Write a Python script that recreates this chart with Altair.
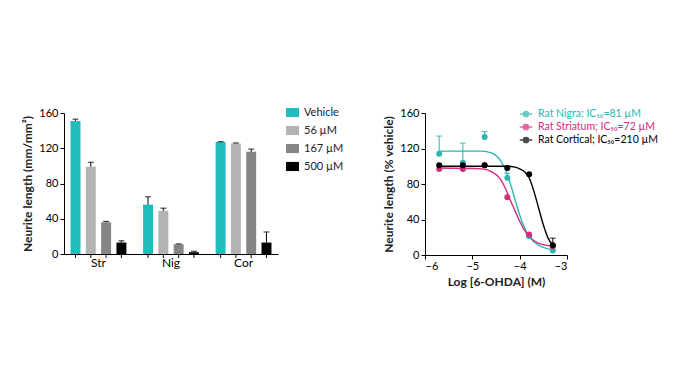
import altair as alt
import pandas as pd

FONT = "Lato"

# ---------------- Left panel data ----------------
groups = ["Str", "Nig", "Cor"]
doses = ["Vehicle", "56 µM", "167 µM", "500 µM"]
dose_colors = ["#1fbcbc", "#b3b3b3", "#858585", "#000000"]
str_mean = [151, 99, 36, 13]
str_upper = [153, 104, 37, 15]
nig_mean = [56, 49, 11, 2]
nig_upper = [65, 52, 11.5, 3]
cor_mean = [127, 125.5, 116, 13]
cor_upper = [127.5, 126, 119, 25]

rows = []
for g, means, ups in [("Str", str_mean, str_upper), ("Nig", nig_mean, nig_upper), ("Cor", cor_mean, cor_upper)]:
    for d, m, u in zip(doses, means, ups):
        rows.append({"group": g, "dose": d, "mean": m, "upper": u})
bars_df = pd.DataFrame(rows)

# ---------------- Right panel data ----------------
series = ["Rat Nigra; IC₅₀=81 µM", "Rat Striatum; IC₅₀=72 µM", "Rat Cortical; IC₅₀=210 µM"]
series_colors = ["#2bb6b0", "#d62a7e", "#000000"]
log_conc = [-5.7, -5.2, -4.74, -4.26, -3.8, -3.3]
nigra_y = [114, 104, 133, 87, 21, 5]
nigra_upper = [134, 126, 139, 92, 22, 6]
striatum_y = [97, 97, 101, 65, 23, 10]
striatum_upper = [97, 97, 101, 65, 23, 10]
cortical_y = [101, 101, 101, 98, 91, 11]
cortical_upper = [101, 101, 101, 98, 91, 19]

# fitted curves
nigra_fit_x = [-5.7, -4.8, -4.6, -4.4, -4.3, -4.2, -4.1, -4.0, -3.9, -3.8, -3.6, -3.3]
nigra_fit_y = [117, 117, 115, 106, 96, 81, 63, 45, 31, 21, 11, 6]
striatum_fit_x = [-5.7, -4.8, -4.6, -4.4, -4.3, -4.2, -4.1, -4.0, -3.9, -3.8, -3.6, -3.3]
striatum_fit_y = [98, 97, 94, 85, 75, 62, 50, 38, 28, 21, 13, 10]
cortical_fit_x = [-5.7, -4.3, -4.1, -4.0, -3.9, -3.8, -3.7, -3.6, -3.5, -3.4, -3.3]
cortical_fit_y = [100, 100, 99, 97, 94, 87, 72, 53, 34, 19, 11]

y_ticks = [0, 40, 80, 120, 160]
x_ticks = [-6, -5, -4, -3]

pts = []
fits = []
for s, ys, us in [(series[0], nigra_y, nigra_upper), (series[1], striatum_y, striatum_upper), (series[2], cortical_y, cortical_upper)]:
    for x, y, u in zip(log_conc, ys, us):
        pts.append({"series": s, "x": x, "y": y, "upper": u})
pts_df = pd.DataFrame(pts)
err_df = pts_df[pts_df["upper"] > pts_df["y"] + 0.5]
for s, xs, ys in [(series[0], nigra_fit_x, nigra_fit_y), (series[1], striatum_fit_x, striatum_fit_y), (series[2], cortical_fit_x, cortical_fit_y)]:
    for x, y in zip(xs, ys):
        fits.append({"series": s, "x": x, "y": y})
fits_df = pd.DataFrame(fits)

TICK_FS = 11
TITLE_FS = 12

# ---------------- Left chart ----------------
LW, LH = 214, 141
xenc = alt.X("group:N", sort=groups, title=None,
             scale=alt.Scale(paddingInner=0.23, paddingOuter=0.09),
             axis=alt.Axis(ticks=False, labelAngle=0, labelFontSize=12, labelPadding=3,
                           domainColor="black", labelColor="black", labelFont=FONT))
xoff = alt.XOffset("dose:N", sort=doses, scale=alt.Scale(paddingInner=0.35, paddingOuter=0))
yenc = alt.Y("mean:Q", title="Neurite length  (mm/mm²)",
             scale=alt.Scale(domain=[0, 160], nice=False),
             axis=alt.Axis(values=y_ticks, tickCount=5, grid=False, tickSize=4, labelOverlap=False,
                           domainColor="black", tickColor="black", labelColor="black",
                           labelFontSize=TICK_FS, labelFont=FONT, titleFont=FONT, titleFontSize=TITLE_FS,
                           titleFontWeight="bold", titlePadding=4, titleColor="#222222"))

base_l = alt.Chart(bars_df)
bars = base_l.mark_bar().encode(
    x=xenc, xOffset=xoff, y=yenc,
    color=alt.Color("dose:N", sort=doses,
                    scale=alt.Scale(domain=doses, range=dose_colors),
                    legend=alt.Legend(title=None, orient="none", legendX=219, legendY=-10, padding=3,
                                      symbolType="M-1,-0.7L1,-0.7L1,0.7L-1,0.7Z",
                                      symbolSize=169, symbolStrokeWidth=0, labelFontSize=11,
                                      labelFont=FONT, labelColor="#222222", rowPadding=6,
                                      labelOffset=5)),
)
err = base_l.mark_rule(color="black", strokeWidth=1).encode(
    x=xenc, xOffset=xoff, y="mean:Q", y2="upper:Q")
cap = base_l.mark_tick(color="black", thickness=1.2, size=6).encode(
    x=xenc, xOffset=xoff, y="upper:Q")
ticks = base_l.mark_rule(color="black", strokeWidth=1).encode(
    x=xenc, xOffset=xoff, y=alt.value(LH), y2=alt.value(LH + 4))
left = alt.layer(bars, err, cap, ticks).properties(width=LW, height=LH)

# ---------------- Right chart ----------------
RW, RH = 142, 142
xr = alt.X("x:Q", title="Log [6-OHDA] (M)",
           scale=alt.Scale(domain=[-6, -3], nice=False),
           axis=alt.Axis(values=x_ticks, tickCount=4, format="d", grid=False, tickSize=4, labelOverlap=False,
                         domainColor="black", tickColor="black", labelColor="black", labelPadding=1,
                         labelFontSize=TICK_FS, labelFont=FONT, titleFont=FONT, titleFontSize=TITLE_FS,
                         titleFontWeight="bold", titlePadding=5, titleColor="#222222"))
yr = alt.Y("y:Q", title="Neurite length  (% vehicle)",
           scale=alt.Scale(domain=[0, 160], nice=False),
           axis=alt.Axis(values=y_ticks, tickCount=5, grid=False, tickSize=4, labelOverlap=False,
                         domainColor="black", tickColor="black", labelColor="black",
                         labelFontSize=TICK_FS, labelFont=FONT, titleFont=FONT, titleFontSize=TITLE_FS,
                         titleFontWeight="bold", titlePadding=4, titleColor="#222222"))
cscale = alt.Scale(domain=series, range=series_colors)

label_color_expr = ("indexof(datum.label, 'Nigra') >= 0 ? '#2bb6b0' : "
                    "(indexof(datum.label, 'Striatum') >= 0 ? '#d62a7e' : '#000000')")

right_legend = alt.Legend(title=None, orient="none", legendX=94, legendY=-6, padding=0,
                          symbolType="M-1,0L1,0M-0.42,0A0.42,0.42,0,1,1,0.42,0A0.42,0.42,0,1,1,-0.42,0Z",
                          symbolSize=156, symbolStrokeWidth=1.5, labelFontSize=10.5,
                          labelFont=FONT, rowPadding=0, labelOffset=5,
                          labelColor=alt.ExprRef(label_color_expr))
color_r = alt.Color("series:N", scale=cscale, sort=series, legend=right_legend)

curve = alt.Chart(fits_df).mark_line(strokeWidth=1.4, interpolate="monotone").encode(
    x=xr, y=yr, detail="series:N", color=color_r)
errs = alt.Chart(err_df).mark_rule(strokeWidth=1).encode(
    x="x:Q", y="y:Q", y2="upper:Q", color=color_r)
caps = alt.Chart(err_df).mark_tick(thickness=1.2, size=6, orient="horizontal").encode(
    x="x:Q", y="upper:Q", color=color_r)
points = alt.Chart(pts_df).mark_circle(size=36, opacity=1).encode(
    x="x:Q", y="y:Q", color=color_r)
right = alt.layer(curve, errs, caps, points).properties(width=RW, height=RH)

chart = alt.hconcat(left, right, spacing=35).resolve_scale(color="independent").properties(
    padding={"top": 95, "left": 13, "right": 5, "bottom": 5}
).configure(font=FONT, view=alt.ViewConfig(stroke=None))

chart.save("out.html", embed_options={"renderer": "svg", "actions": False})
